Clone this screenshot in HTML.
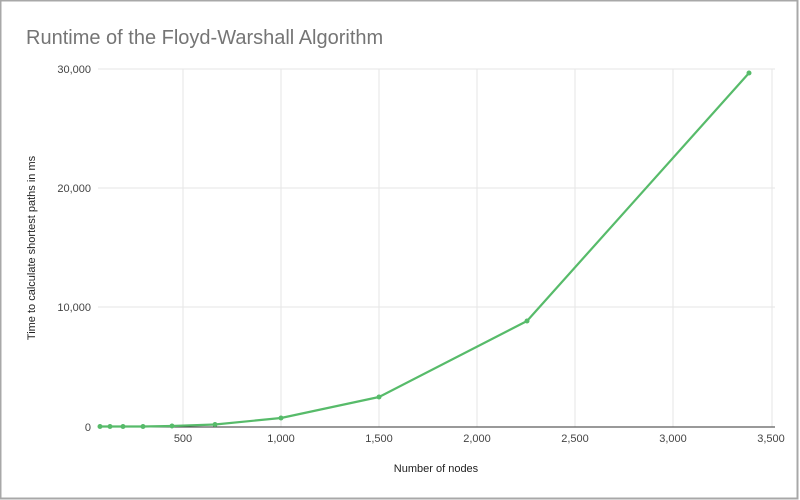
<!DOCTYPE html>
<html><head><style>
body{margin:0;background:#fff;}
svg{display:block;font-family:"Liberation Sans",Arial,sans-serif;}
</style></head><body>
<svg width="800" height="500" viewBox="0 0 800 500">
<rect x="0.5" y="0.5" width="797" height="498" fill="#fff" stroke="#a8a8a8" stroke-width="2"/>
<text x="26" y="44" font-size="20" fill="#757575">Runtime of the Floyd-Warshall Algorithm</text>
<g stroke="#e6e6e6" stroke-width="1">
<line x1="98" y1="69" x2="775" y2="69"/>
<line x1="98" y1="188" x2="775" y2="188"/>
<line x1="98" y1="307" x2="775" y2="307"/>
<line x1="183" y1="69" x2="183" y2="427"/>
<line x1="281" y1="69" x2="281" y2="427"/>
<line x1="379" y1="69" x2="379" y2="427"/>
<line x1="477" y1="69" x2="477" y2="427"/>
<line x1="575" y1="69" x2="575" y2="427"/>
<line x1="673" y1="69" x2="673" y2="427"/>
<line x1="772" y1="69" x2="772" y2="427"/>
</g>
<line x1="98" y1="427" x2="775" y2="427" stroke="#333" stroke-width="1"/>
<g font-size="11" fill="#444" text-anchor="end">
<text x="91" y="73">30,000</text>
<text x="91" y="192">20,000</text>
<text x="91" y="311">10,000</text>
<text x="91" y="431">0</text>
</g>
<g font-size="11" fill="#444" text-anchor="middle">
<text x="183" y="442">500</text>
<text x="281" y="442">1,000</text>
<text x="379" y="442">1,500</text>
<text x="477" y="442">2,000</text>
<text x="575" y="442">2,500</text>
<text x="673" y="442">3,000</text>
<text x="771" y="442">3,500</text>
</g>
<text x="436" y="472" font-size="11" fill="#222" text-anchor="middle">Number of nodes</text>
<text transform="translate(35,248) rotate(-90)" font-size="11" fill="#222" text-anchor="middle">Time to calculate shortest paths in ms</text>
<polyline fill="none" stroke="#57bb6a" stroke-width="2.2" stroke-linejoin="round"
points="100,426.5 110,426.5 123,426.5 143,426.5 172,426 215,424.5 281,418 379,397 527,321 749,73"/>
<g fill="#57bb6a">
<circle cx="100" cy="426.5" r="2.5"/><circle cx="110" cy="426.5" r="2.5"/><circle cx="123" cy="426.5" r="2.5"/>
<circle cx="143" cy="426.5" r="2.5"/><circle cx="172" cy="426" r="2.5"/><circle cx="215" cy="424.5" r="2.5"/>
<circle cx="281" cy="418" r="2.5"/><circle cx="379" cy="397" r="2.5"/><circle cx="527" cy="321" r="2.5"/>
<circle cx="749" cy="73" r="2.5"/>
</g>
</svg>
</body></html>
